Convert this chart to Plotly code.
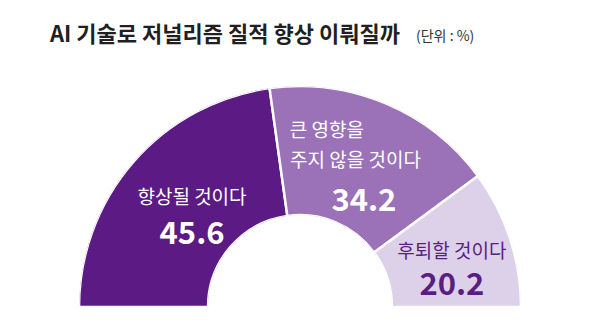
import plotly.graph_objects as go

categories = ["향상될 것이다", "큰 영향을<br>주지 않을 것이다", "후퇴할 것이다"]
values = [45.6, 34.2, 20.2]
value_labels = ["45.6", "34.2", "20.2"]
colors = ["#5c1a84", "#9b71b7", "#ddd1e9"]
label_colors = ["#ffffff", "#ffffff", "#5a1e83"]

title = "AI 기술로 저널리즘 질적 향상 이뤄질까"
unit = "(단위 : %)"

# angles: semicircle from 180 (left) to 0 (right)
total = sum(values)
mids, widths = [], []
cum = 0.0
for v in values:
    a0 = 180 - cum / total * 180
    w = v / total * 180
    widths.append(w)
    mids.append(a0 - w / 2)
    cum += v

fig = go.Figure()
fig.add_trace(go.Barpolar(
    r=[1] * len(values), theta=mids, width=widths,
    marker=dict(color=colors, line=dict(color="white", width=2.5)),
    hoverinfo="skip", showlegend=False,
))

# label line placement: per category, per line (radius, angle offset from slice mid)
line_place = [
    [(0.471, -3.96)],
    [(0.646, 26.2), (0.413, 26.8)],
    [(0.537, 1.38)],
]
label_pos = ["middle center", "middle right", "middle center"]
value_place = [(0.289, 7.7), (0.234, -8.7), (0.475, -10.7)]
FONT = "Noto Sans CJK KR"

for i in range(len(values)):
    lines = categories[i].split("<br>")
    for line, (rr, dt) in zip(lines, line_place[i]):
        fig.add_trace(go.Scatterpolar(
            r=[rr], theta=[mids[i] + dt], mode="text",
            text=[line], textposition=label_pos[i],
            textfont=dict(family=FONT, size=19, color=label_colors[i]),
            hoverinfo="skip", showlegend=False,
        ))
    vr, vdt = value_place[i]
    fig.add_trace(go.Scatterpolar(
        r=[vr], theta=[mids[i] + vdt], mode="text",
        text=[value_labels[i]], textposition="middle center",
        textfont=dict(family=FONT, size=31, color=label_colors[i], weight="bold"),
        hoverinfo="skip", showlegend=False,
    ))

fig.update_layout(
    width=600, height=334,
    margin=dict(l=0, r=0, t=0, b=0),
    paper_bgcolor="white", plot_bgcolor="white",
    polar=dict(
        domain=dict(x=[79 / 600, 521 / 600], y=[27 / 334, 248 / 334]),
        sector=[0, 180], hole=0.416, bgcolor="white",
        radialaxis=dict(visible=False, range=[0, 1]),
        angularaxis=dict(visible=False, direction="counterclockwise", rotation=0),
    ),
    title=dict(text=title, x=50 / 600, xanchor="left", y=1 - 34 / 334, yanchor="middle",
               font=dict(family=FONT, size=22, color="#231f20", weight="bold")),
    annotations=[dict(text=unit, x=414 / 600, y=1 - 35 / 334, xref="paper", yref="paper",
                      xanchor="left", yanchor="middle", showarrow=False,
                      font=dict(family=FONT, size=14, color="#333333"))],
)

fig.write_html("out.html")
